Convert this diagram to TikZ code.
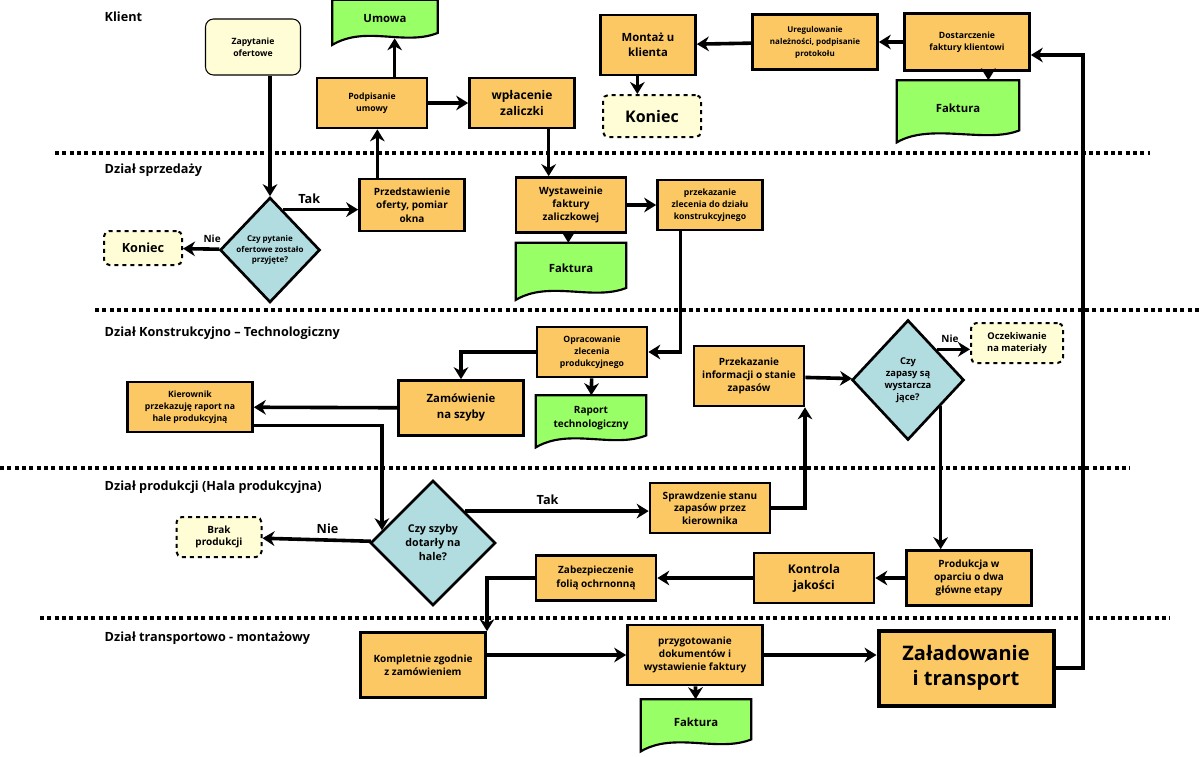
\documentclass[tikz,border=0pt]{standalone}
\usepackage{fontspec}
\setmainfont{Open Sans}
\usetikzlibrary{arrows.meta,calc,positioning,shapes.geometric}
\newcommand\px{0.75pt}
\definecolor{boxor}{HTML}{FCC864}
\definecolor{docgr}{HTML}{99FF66}
\definecolor{decbl}{HTML}{B2DDE0}
\definecolor{endyl}{HTML}{FFFDD5}
\tikzset{
  sz/.style 2 args={minimum width=#1*\px, minimum height=#2*\px},
  box/.style={draw, line width=2pt, fill=boxor, align=center, inner sep=1pt,
    font=\bfseries\fontsize{8}{10.5}\selectfont},
  small/.style={font=\bfseries\fontsize{6.5}{9}\selectfont},
  dec/.style={diamond, draw, line width=2pt, fill=decbl, align=center, inner sep=0pt,
    font=\bfseries\fontsize{6}{8}\selectfont},
  stop/.style={draw, dashed, line width=1.5pt, fill=endyl, rounded corners=4pt, align=center,
    font=\bfseries\fontsize{7.5}{10}\selectfont},
  doc/.style={align=center, inner sep=1pt, font=\bfseries\fontsize{8.5}{10.5}\selectfont},
  lane/.style={line width=2.5pt, dash pattern=on 3pt off 2.5pt},
  lanelbl/.style={anchor=west, font=\bfseries\fontsize{9.5}{11}\selectfont},
  flow/.style={line width=2.7pt, -{Stealth[length=9pt,width=11pt]}},
  lbl/.style={font=\bfseries\fontsize{9.5}{11}\selectfont},
}
\newcommand\docshape[1]{%
  \fill[docgr] (#1.north west) -- (#1.north east) -- ([yshift=4pt]#1.south east)
    .. controls ([xshift=-25pt,yshift=-6pt]#1.south east) and ([xshift=25pt,yshift=10pt]#1.south west)
    .. ([yshift=-5pt]#1.south west) -- cycle;
  \draw[line width=1.6pt] (#1.north west) -- (#1.north east) -- ([yshift=4pt]#1.south east)
    .. controls ([xshift=-25pt,yshift=-6pt]#1.south east) and ([xshift=25pt,yshift=10pt]#1.south west)
    .. ([yshift=-5pt]#1.south west) -- cycle;}
\begin{document}
\begin{tikzpicture}[x=0.75pt,y=-0.75pt]
  \useasboundingbox (0,0) rectangle (1200,757);
%
  \draw[lane] (55,153) -- (1150,153);
  \draw[lane] (95,310) -- (1200,310);
  \draw[lane] (0,468) -- (1130,468);
  \draw[lane] (40,618) -- (1170,618);
  \node[lanelbl] at (100,17) {Klient};
  \node[lanelbl] at (100,170) {Dział sprzedaży};
  \node[lanelbl] at (100,333) {Dział Konstrukcyjno – Technologiczny};
  \node[lanelbl] at (100,487) {Dział produkcji (Hala produkcyjna)};
  \node[lanelbl] at (100,638) {Dział transportowo - montażowy};
%
  % documents first, so the wave sits under the text
  \path node[doc, sz={105}{38}] (umowa) at (385,19) {};
  \docshape{umowa}\node[doc] at (umowa) {Umowa};
  \path node[doc, sz={122}{55}] (fakt1) at (958,108) {};
  \docshape{fakt1}\node[doc] at (fakt1) {Faktura};
  \path node[doc, sz={110}{50}] (fakt2) at (571,268) {};
  \docshape{fakt2}\node[doc] at (fakt2) {Faktura};
  \path node[doc, sz={110}{45}] (raport) at (591,418) {};
  \docshape{raport}\node[doc, font=\bfseries\fontsize{7.5}{10}\selectfont] at (raport) {Raport\\technologiczny};
  \path node[doc, sz={110}{45}] (fakt3) at (696,722) {};
  \docshape{fakt3}\node[doc] at (fakt3) {Faktura};
%
  \node[stop, line width=0.8pt, solid, rounded corners=6pt, small, sz={95}{56}] (zapyt) at (253,47) {Zapytanie\\ofertowe};
  \node[box, small, sz={110}{50}] (podpis) at (372,103) {Podpisanie\\umowy};
  \node[box, font=\bfseries\fontsize{9}{11.5}\selectfont, sz={105}{50}] (wplata) at (522,103) {wpłacenie\\zaliczki};
  \node[box, font=\bfseries\fontsize{8.5}{11.5}\selectfont, sz={95}{60}] (montaz) at (648,45) {Montaż u\\klienta};
  \node[box, font=\bfseries\fontsize{6}{9}\selectfont, sz={125}{55}] (ureg) at (815,42) {Uregulowanie\\należności, podpisanie\\protokołu};
  \node[box, small, sz={125}{57}] (dostar) at (967,42) {Dostarczenie\\faktury klientowi};
  \node[stop, font=\bfseries\fontsize{12}{14}\selectfont, sz={98}{42}] (kon1) at (652,116) {Koniec};
%
  \node[dec, sz={100}{105}] (pytanie) at (270,250) {Czy pytanie\\ofertowe zostało\\przyjęte?};
  \node[stop, font=\bfseries\fontsize{9.5}{11}\selectfont, sz={78}{34}] (kon2) at (143,248) {Koniec};
  \node[box, font=\bfseries\fontsize{7.5}{10}\selectfont, sz={105}{52}] (przed) at (412,205) {Przedstawienie\\oferty, pomiar\\okna};
  \node[box, font=\bfseries\fontsize{7.5}{9.5}\selectfont, sz={110}{55}] (wystaw) at (571,205) {Wystaweinie\\faktury\\zaliczkowej};
  \node[box, small, sz={105}{50}] (zlec) at (710,205) {przekazanie\\zlecenia do działu\\konstrukcyjnego};
%
  \node[box, small, sz={110}{50}] (opr) at (592,352) {Opracowanie\\zlecenia\\produkcyjnego};
  \node[box, font=\bfseries\fontsize{8.5}{12}\selectfont, sz={125}{55}] (zam) at (461,408) {Zamówienie\\na szyby};
  \node[box, small, sz={125}{50}] (kier) at (190,407) {Kierownik\\przekazuję raport na\\hale produkcyjną};
  \node[box, font=\bfseries\fontsize{7.5}{10}\selectfont, sz={110}{60}] (info) at (749,376) {Przekazanie\\informacji o stanie\\zapasów};
  \node[dec, font=\bfseries\fontsize{7}{9}\selectfont, sz={112}{120}] (zapasy) at (908,380) {Czy\\zapasy są\\wystarcza\\jące?};
  \node[stop, font=\bfseries\fontsize{7}{9.5}\selectfont, sz={92}{40}] (oczek) at (1017,343) {Oczekiwanie\\na materiały};
%
  \node[dec, font=\bfseries\fontsize{8}{10.5}\selectfont, sz={125}{125}] (szyby) at (433,543) {Czy szyby\\dotarły na\\hale?};
  \node[stop, font=\bfseries\fontsize{7.5}{9.5}\selectfont, sz={85}{40}] (brak) at (219,537) {Brak\\produkcji};
  \node[box, font=\bfseries\fontsize{7.5}{9.5}\selectfont, sz={120}{50}] (spraw) at (710,508) {Sprawdzenie stanu\\zapasów przez\\kierownika};
  \node[box, font=\bfseries\fontsize{7.5}{10}\selectfont, sz={125}{55}] (prod) at (969,578) {Produkcja w\\oparciu o dwa\\główne etapy};
  \node[box, font=\bfseries\fontsize{9}{12}\selectfont, sz={120}{50}] (kontr) at (814,578) {Kontrola\\jakości};
  \node[box, font=\bfseries\fontsize{7.5}{10}\selectfont, sz={120}{45}] (zabez) at (596,578) {Zabezpieczenie\\folią ochrnonną};
%
  \node[box, font=\bfseries\fontsize{7.5}{10}\selectfont, sz={125}{65}] (kompl) at (423,665) {Kompletnie zgodnie\\z zamówieniem};
  \node[box, font=\bfseries\fontsize{7.5}{9.5}\selectfont, sz={135}{60}] (przyg) at (695,655) {przygotowanie\\dokumentów i\\wystawienie faktury};
  \node[box, line width=3pt, font=\bfseries\fontsize{15}{19}\selectfont, sz={175}{75}] (zalad) at (966,668) {Załadowanie\\i transport};
%
  \coordinate (tak1) at ($(pytanie.north)!0.25!(pytanie.east)$);
  \coordinate (wej) at ($(szyby.west)!0.2!(szyby.north)$);
  \coordinate (wyj) at ($(zapasy.east)!0.43!(zapasy.south)$);
  \draw[flow] (zapyt.south -| pytanie.north) -- (pytanie.north);
  \draw[flow] (tak1) -- (tak1 -| przed.west) node[lbl, above, pos=0.35] {Tak};
  \draw[flow] (pytanie) -- (kon2) node[lbl, above, pos=0.2, font=\bfseries\fontsize{7.5}{9}\selectfont] {Nie};
  \draw[flow] ([xshift=-26pt]przed.north) -- ([xshift=-26pt]przed.north |- podpis.south);
  \draw[flow] ([xshift=17pt]podpis.north) -- ([xshift=17pt]podpis.north |- umowa.south);
  \draw[flow] (podpis) -- (wplata);
  \draw[flow] ([xshift=20pt]wplata.south) -- ([xshift=20pt]wplata.south |- wystaw.north);
  \draw[flow] ([xshift=-2pt]wystaw.south) -- ([xshift=-2pt]wystaw.south |- fakt2.north);
  \draw[flow] (wystaw) -- (zlec);
  \draw[flow] ([xshift=-22pt]zlec.south) |- (opr.east);
  \draw[flow] (opr.west) -| (zam.north);
  \draw[flow] (opr) -- (raport);
  \draw[flow] (zam) -- (kier);
  \draw[flow] ([yshift=-14pt]kier.east) -| (wej);
  \draw[flow] (szyby) -- (brak) node[lbl, above, pos=0.4] {Nie};
  \draw[flow] (szyby.north east) -- (szyby.north east -| spraw.west) node[lbl, above, pos=0.45] {Tak};
  \draw[flow] (spraw.east) -| ([xshift=42pt]info.south);
  \draw[flow] (info) -- (zapasy);
  \draw[flow] (zapasy.north east) -- (zapasy.north east -| oczek.west) node[lbl, above, pos=0.4, font=\bfseries\fontsize{7.5}{9}\selectfont] {Nie};
  \draw[flow] (wyj) -- (wyj |- prod.north);
  \draw[flow] (prod) -- (kontr);
  \draw[flow] (kontr) -- (zabez);
  \draw[flow] (zabez.west) -| ([xshift=48pt]kompl.north);
  \draw[flow] (kompl.east |- przyg) -- (przyg);
  \draw[flow] (przyg) -- (zalad.west |- przyg);
  \draw[flow] (przyg) -- (fakt3);
  \coordinate (turn) at (1083,55);
  \draw[flow] (zalad.east) -| (turn) -- (turn -| dostar.east);
  \draw[flow] ([xshift=16pt]dostar.south) -- ([xshift=16pt]dostar.south |- fakt1.north);
  \draw[flow] (dostar) -- (ureg);
  \draw[flow] (ureg) -- (montaz);
  \draw[flow] ([xshift=-8pt]montaz.south) -- ([xshift=-8pt]montaz.south |- kon1.north);
\end{tikzpicture}
\end{document}
